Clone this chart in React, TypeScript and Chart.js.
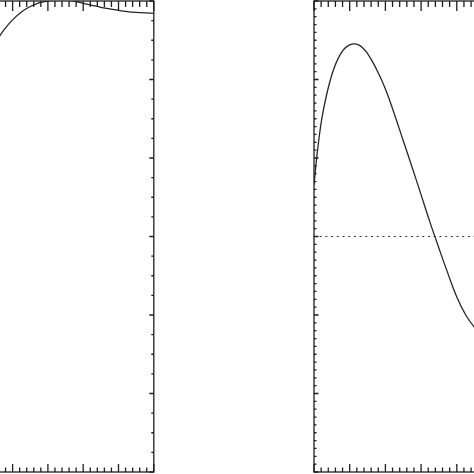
import React, { useEffect, useRef } from "react";
import Chart from "chart.js/auto";

// left panel curve
const leftX = [0, 0.25, 0.5, 0.75, 1, 1.25, 1.5, 1.75, 2, 2.25, 2.5, 2.75, 3, 3.25, 3.5, 3.75, 4, 4.25, 4.5, 4.75, 5];
const leftY = [5.1, 5.28, 5.46, 5.63, 5.76, 5.86, 5.93, 5.975, 6.0, 6.01, 6.01, 6.0, 5.97, 5.945, 5.92, 5.9, 5.88, 5.865, 5.855, 5.848, 5.843];

// right panel curve + dotted zero line
const rightX = [0, 0.1, 0.25, 0.5, 0.75, 1, 1.25, 1.5, 1.75, 2, 2.25, 2.5, 2.75, 3, 3.25, 3.5, 3.75, 4, 4.25, 4.5, 4.75, 5];
const rightY = [0.66, 1.1, 1.58, 2.06, 2.33, 2.44, 2.44, 2.33, 2.13, 1.88, 1.56, 1.22, 0.88, 0.53, 0.18, -0.15, -0.47, -0.77, -1.0, -1.16, -1.28, -1.36];
const zeroX = [0, 5];
const zeroY = [0, 0];

type FrameCfg = {
  xStep: number;
  xMajorEvery: number;
  yStep: number;
  yMajorEvery: number;
  ySide: "left" | "right";
};

function framePlugin(cfg: FrameCfg) {
  return {
    id: "frame",
    afterDatasetsDraw(chart: any) {
      const { ctx, chartArea: a, scales } = chart;
      const sx = scales.x;
      const sy = scales.y;
      ctx.save();
      ctx.strokeStyle = "#1e1e1e";
      ctx.lineWidth = 1.3;
      ctx.strokeRect(a.left, a.top, a.right - a.left, a.bottom - a.top);

      ctx.beginPath();
      const nx = Math.round((sx.max - sx.min) / cfg.xStep);
      for (let i = 0; i <= nx; i++) {
        const px = sx.getPixelForValue(sx.min + i * cfg.xStep);
        const major = i % cfg.xMajorEvery === 0;
        ctx.moveTo(px, a.top);
        ctx.lineTo(px, a.top + (major ? 10 : 6));
        ctx.moveTo(px, a.bottom);
        ctx.lineTo(px, a.bottom - (major ? 8 : 4.5));
      }
      const ny = Math.round((sy.max - sy.min) / cfg.yStep);
      for (let i = 0; i <= ny; i++) {
        const py = sy.getPixelForValue(sy.min + i * cfg.yStep);
        const major = i % cfg.yMajorEvery === 0;
        const len = major ? 4.5 : 2.5;
        if (cfg.ySide === "right") {
          ctx.moveTo(a.right, py);
          ctx.lineTo(a.right - len, py);
        } else {
          ctx.moveTo(a.left, py);
          ctx.lineTo(a.left + len, py);
        }
      }
      ctx.lineWidth = 1.3;
      ctx.stroke();
      ctx.restore();
    },
  };
}

function Panel(props: {
  left: number;
  padding: { left: number; right: number; top: number; bottom: number };
  datasets: any[];
  yMin: number;
  yMax: number;
  frame: FrameCfg;
}) {
  const ref = useRef<HTMLCanvasElement>(null);

  useEffect(() => {
    const ctx = ref.current?.getContext("2d");
    if (!ctx) return;
    const chart = new Chart(ctx, {
      type: "line",
      data: { datasets: props.datasets },
      options: {
        responsive: false,
        animation: false,
        layout: { padding: props.padding },
        plugins: { legend: { display: false }, tooltip: { enabled: false } },
        elements: { point: { radius: 0 } },
        scales: {
          x: { type: "linear", min: 0, max: 5, display: false },
          y: { type: "linear", min: props.yMin, max: props.yMax, display: false },
        },
      },
      plugins: [framePlugin(props.frame)],
    });
    return () => chart.destroy();
  }, []);

  return (
    <canvas
      ref={ref}
      width={200}
      height={474}
      style={{ position: "absolute", left: props.left, top: 0, width: 200, height: 474 }}
    />
  );
}

const toPoints = (xs: number[], ys: number[]) => xs.map((x, i) => ({ x, y: ys[i] }));

export default function App() {
  const leftSets = [
    {
      data: toPoints(leftX, leftY),
      borderColor: "#262626",
      borderWidth: 1.3,
      cubicInterpolationMode: "monotone",
      fill: false,
    },
  ];
  const rightSets = [
    {
      data: toPoints(zeroX, zeroY),
      borderColor: "#333333",
      borderWidth: 1,
      borderDash: [2, 3.7],
      fill: false,
    },
    {
      data: toPoints(rightX, rightY),
      borderColor: "#262626",
      borderWidth: 1.3,
      tension: 0.4,
      fill: false,
    },
  ];

  return (
    <div
      style={{
        position: "fixed",
        left: 0,
        top: 0,
        width: 474,
        height: 474,
        overflow: "hidden",
        background: "#ffffff",
      }}
    >
      <Panel
        left={-40}
        padding={{ left: 17.3, right: 6.2, top: 1, bottom: 2 }}
        datasets={leftSets}
        yMin={0}
        yMax={6}
        frame={{ xStep: 0.2, xMajorEvery: 5, yStep: 0.25, yMajorEvery: 4, ySide: "right" }}
      />
      <Panel
        left={300}
        padding={{ left: 14, right: 7.5, top: 1, bottom: 2 }}
        datasets={rightSets}
        yMin={-3}
        yMax={3}
        frame={{ xStep: 0.2, xMajorEvery: 5, yStep: 0.1, yMajorEvery: 10, ySide: "left" }}
      />
    </div>
  );
}
